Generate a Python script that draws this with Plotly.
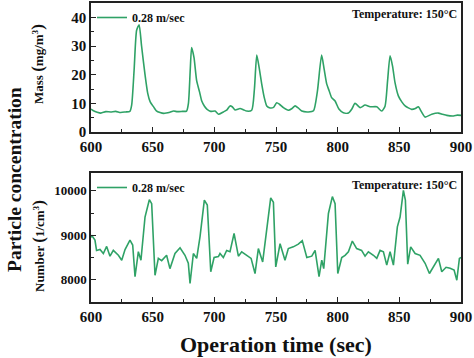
import plotly.graph_objects as go

# ---- data ----
mass_t = [600, 602, 605, 608, 612, 616, 620, 624, 628, 631.5, 633, 635, 637, 639, 641, 643.8, 646, 648, 651, 653, 656, 659, 661, 664, 667, 670, 674, 677.5, 679, 680.5, 681.6, 683.5, 685.7, 688, 689.8, 692, 693.9, 697, 700.6, 703.3, 707.3, 710, 712.7, 714.5, 716.8, 720.8, 723.5, 726.2, 730.3, 732.5, 734.4, 736.5, 738.4, 740.5, 742.5, 745.2, 748, 750.6, 753, 756, 760, 763, 765.5, 768, 770.9, 776.3, 780.4, 783.5, 787, 789, 791.1, 793, 795.1, 797.9, 801, 804.6, 808.7, 811.5, 814.1, 818.2, 822.2, 826.3, 831.7, 835.7, 838.4, 840.5, 842.5, 844.5, 846.5, 849.2, 852, 854.7, 860, 863, 865.4, 868, 870.9, 876.3, 881.6, 885, 888.5, 893.9, 897, 900]
mass_v = [8.0, 7.4, 6.9, 6.6, 7.1, 7.0, 7.2, 6.8, 7.0, 7.2, 9.5, 22.0, 35.5, 37.4, 30.0, 20.0, 13.5, 10.5, 8.6, 7.4, 6.8, 6.5, 6.6, 6.9, 7.3, 7.1, 7.2, 7.3, 10.0, 22.0, 29.5, 26.0, 17.8, 14.0, 10.8, 9.0, 8.0, 7.2, 7.3, 6.2, 7.0, 7.6, 9.1, 8.8, 7.7, 8.2, 7.8, 7.3, 7.6, 15.0, 26.8, 22.0, 16.8, 12.0, 9.1, 8.4, 8.6, 10.2, 9.6, 8.5, 7.6, 8.2, 9.1, 8.4, 7.3, 7.0, 7.4, 14.0, 26.8, 22.0, 16.8, 14.5, 12.0, 10.8, 8.0, 6.7, 6.6, 8.0, 10.0, 8.5, 9.4, 8.8, 8.8, 7.3, 9.0, 18.0, 26.6, 23.0, 17.2, 12.6, 10.5, 9.1, 7.9, 8.2, 8.8, 7.0, 5.2, 6.2, 6.6, 6.2, 5.8, 5.6, 5.9, 5.8]

num_t = [600, 600.5, 603.2, 604.5, 607.3, 610, 612.7, 615.4, 618.1, 622.2, 624.9, 627.6, 631.6, 633.8, 635.7, 638.4, 640.5, 643.8, 647.3, 649.2, 651.9, 654.6, 657.3, 661.3, 664, 668.1, 672.2, 676.2, 678.9, 680.3, 683, 685.7, 688.4, 691.9, 694.3, 697.1, 699.8, 703.3, 704.6, 707.3, 710, 712.7, 716, 719.5, 722.2, 726.3, 729.8, 733, 735.7, 739.2, 742.5, 745.7, 747.9, 749.8, 753.3, 757.3, 760, 764, 768.1, 771.3, 775, 779, 781.7, 784.9, 787.1, 788.7, 792.5, 795.7, 797.9, 800.1, 803.3, 806, 808.7, 811.9, 815.4, 819.4, 822.2, 824.9, 829, 831.7, 834.4, 837.1, 839.8, 842.5, 845.2, 848.4, 850.6, 853.3, 854.9, 856.8, 859.2, 862.8, 866.8, 870.9, 874.4, 877.6, 881.7, 884.4, 887.9, 891.2, 894.4, 896.6, 898.7, 900]
num_v = [8950, 9000, 8890, 8660, 8680, 8590, 8750, 8530, 8660, 8550, 8440, 8680, 8890, 8780, 8070, 8630, 8440, 9410, 9800, 9710, 8100, 8480, 8430, 8550, 8250, 8590, 8720, 8550, 8370, 7920, 8590, 8480, 8970, 9790, 9680, 8180, 8500, 8520, 8590, 8500, 8660, 8630, 9040, 8530, 8630, 8550, 8480, 8140, 8700, 8400, 9110, 9840, 9740, 8290, 8810, 8440, 8700, 8740, 8800, 8880, 8500, 8530, 8660, 8070, 8440, 8250, 9490, 9870, 9710, 8140, 8500, 8550, 8630, 8870, 8700, 8660, 8530, 8630, 8550, 8480, 8660, 8630, 8330, 8630, 8330, 9190, 9410, 10010, 9790, 8350, 8740, 8590, 8550, 8370, 8140, 8290, 8480, 8180, 8280, 8260, 8220, 7990, 8480, 8500]

x_ticks = [600, 650, 700, 750, 800, 850, 900]
mass_ticks = [0, 10, 20, 30, 40]
num_ticks = [8000, 9000, 10000]
num_tick_labels = ["8000", "9000", "10000"]

series_name = "0.28 m/sec"
temp_label = "Temperature: 150°C"

# ---- figure ----
GREEN = "#2fa266"
FONT = "Liberation Serif"
W, H = 474, 358
ML, MR, MT, MB = 91, 13, 3, 56
PW, PH = W - ML - MR, H - MT - MB

def px_x(p):
    return (p - ML) / PW

def px_y(p):
    return (H - MB - p) / PH

fig = go.Figure()
fig.add_trace(go.Scatter(x=mass_t, y=mass_v, mode="lines", name=series_name,
                         line=dict(color=GREEN, width=1.6, shape="spline", smoothing=0.6),
                         xaxis="x", yaxis="y", legend="legend"))
fig.add_trace(go.Scatter(x=num_t, y=num_v, mode="lines", name=series_name,
                         line=dict(color=GREEN, width=1.6),
                         xaxis="x2", yaxis="y2", legend="legend2"))

top_dom = [px_y(132), 1.0]
bot_dom = [0.0, px_y(173)]

axis_common = dict(showline=True, linecolor="#222", linewidth=1.5, mirror=True,
                   ticks="inside", ticklen=5, tickwidth=1.3, tickcolor="#222",
                   showgrid=False, zeroline=False, automargin=False,
                   tickfont=dict(family=FONT, size=15, color="#111", weight="bold"))

fig.update_layout(
    width=W, height=H, margin=dict(l=ML, r=MR, t=MT, b=MB),
    paper_bgcolor="white", plot_bgcolor="white",
    showlegend=True,
    xaxis=dict(domain=[0, 1], anchor="y", range=[600, 900], tickvals=x_ticks,
               minor=dict(dtick=25, tick0=600, ticks="inside", ticklen=3, tickcolor="#222", tickwidth=1.2),
               **axis_common),
    yaxis=dict(domain=top_dom, anchor="x", range=[0, 45], tickvals=mass_ticks,
               minor=dict(dtick=5, tick0=0, ticks="inside", ticklen=3, tickcolor="#222", tickwidth=1.2),
               **axis_common),
    xaxis2=dict(domain=[0, 1], anchor="y2", range=[600, 900], tickvals=x_ticks,
                minor=dict(dtick=25, tick0=600, ticks="inside", ticklen=3, tickcolor="#222", tickwidth=1.2),
                **axis_common),
    yaxis2=dict(domain=bot_dom, anchor="x2", range=[7500, 10400], tickvals=num_ticks,
                ticktext=num_tick_labels,
                minor=dict(dtick=500, tick0=7500, ticks="inside", ticklen=3, tickcolor="#222", tickwidth=1.2),
                **{**axis_common, "tickfont": dict(family=FONT, size=13, color="#111", weight="bold")}),
    legend=dict(x=px_x(92), y=1.0, xanchor="left", yanchor="top", bgcolor="rgba(0,0,0,0)",
                font=dict(family=FONT, size=12, color="#111", weight="bold"),
                itemwidth=30, tracegroupgap=0),
    legend2=dict(x=px_x(92), y=bot_dom[1], xanchor="left", yanchor="top", bgcolor="rgba(0,0,0,0)",
                 font=dict(family=FONT, size=12, color="#111", weight="bold"),
                 itemwidth=30, tracegroupgap=0),
)

ann_font = dict(family=FONT, color="#111", weight="bold")
fig.add_annotation(text=temp_label, xref="paper", yref="paper", x=px_x(459), y=px_y(14),
                   xanchor="right", yanchor="middle", showarrow=False, font=dict(size=12, **ann_font))
fig.add_annotation(text=temp_label, xref="paper", yref="paper", x=px_x(459), y=px_y(185),
                   xanchor="right", yanchor="middle", showarrow=False, font=dict(size=12, **ann_font))
fig.add_annotation(text="Mass <span style='font-size:17px'>(</span>mg/m<sup>3</sup><span style='font-size:17px'>)</span>",
                   xref="paper", yref="paper", x=px_x(38), y=px_y(64), textangle=-90,
                   xanchor="center", yanchor="middle", showarrow=False, font=dict(size=13, **ann_font))
fig.add_annotation(text="Number <span style='font-size:17px'>(</span>1/cm<sup>3</sup><span style='font-size:17px'>)</span>",
                   xref="paper", yref="paper", x=px_x(38), y=px_y(246), textangle=-90,
                   xanchor="center", yanchor="middle", showarrow=False, font=dict(size=13, **ann_font))
fig.add_annotation(text="Particle concentration", xref="paper", yref="paper", x=px_x(14), y=px_y(180),
                   textangle=-90, xanchor="center", yanchor="middle", showarrow=False,
                   font=dict(size=19.5, **ann_font))
fig.add_annotation(text="Operation time (sec)", xref="paper", yref="paper", x=0.5, y=px_y(345),
                   xanchor="center", yanchor="middle", showarrow=False, font=dict(size=22, **ann_font))

fig.write_html("out.html", config={"displayModeBar": False},
               post_script="document.body.style.margin='0';document.body.style.overflow='hidden';")
